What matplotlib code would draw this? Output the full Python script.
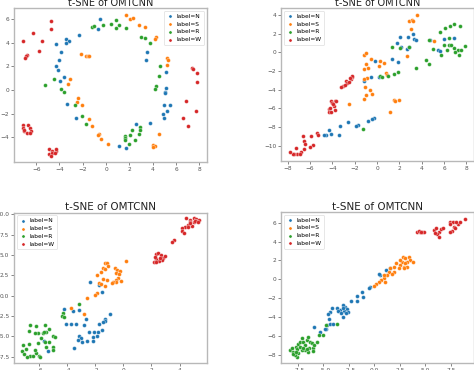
import matplotlib
matplotlib.use("Agg")
import matplotlib.pyplot as plt
import numpy as np

labels = ["N", "S", "R", "W"]
colors = ["#1f77b4", "#ff7f0e", "#2ca02c", "#d62728"]
title = "t-SNE of OMTCNN"

# ---------- panel 1 (top-left) ----------
p1_N_x = [-0.51, -0.71, -2.29, -4.26, -3.4, -3.17, -3.46, -3.86, -4.06, -4.26, -4.14, -3.6, -3.94, -3.34, -2.54,
          3.51, 3.4, 5.11, 5.14, 5.09, 5.03, 5.0, 5.51, 5.2, 4.89, 5.0, 3.77, 2.6, 1.11, 1.69]
p1_N_y = [6.0, 5.15, 4.67, 3.88, 4.3, 4.1, 4.0, 3.2, 2.54, 2.03, 1.7, 1.07, 0.73, -1.17, -2.39,
          3.17, 2.49, 1.52, 0.19, -0.15, -0.29, -1.25, -1.31, -1.82, -2.07, -2.39, -2.81, -2.92, -4.76, -4.93]
p1_S_x = [1.74, 2.03, 2.34, 2.8, 3.37, 4.26, 4.23, 5.26, 5.31, 5.26, -2.14, -1.69, -1.54, -1.43, -3.06, -3.23,
          -2.4, -2.51, -2.06, -1.43, -1.17, -0.6, -0.66, -0.4, 0.2, 4.57, 4.06, 4.2, 4.0]
p1_S_y = [6.34, 6.0, 6.06, 5.49, 5.29, 4.47, 4.3, 2.66, 2.54, 2.09, 3.08, 2.86, 2.86, 2.88, 0.9, 0.48,
          -0.69, -1.03, -1.31, -2.44, -3.07, -3.74, -3.83, -4.17, -4.54, -3.69, -4.68, -4.74, -4.82]
p1_R_x = [-1.17, -1.03, -0.23, 0.43, 0.86, 1.09, 0.89, 1.69, 2.97, 3.37, 3.8, 4.63, 4.57, 4.29, 4.23,
          -5.23, -4.51, -3.83, -3.6, -2.63, -2.03, -1.74, 2.2, 1.66, 1.66, 2.06, 1.63, 2.49, 2.91, 2.89, 2.86, 1.94]
p1_R_y = [5.35, 5.4, 5.46, 5.6, 5.94, 5.49, 5.26, 5.21, 4.47, 4.36, 3.93, 2.0, 1.21, 0.33, 0.11,
          0.39, 0.9, 0.11, -0.15, -1.31, -2.19, -2.92, -3.38, -3.89, -4.06, -3.8, -4.25, -4.28, -3.18, -3.4, -3.77, -4.54]
p1_W_x = [-4.74, -4.74, -6.29, -5.54, -7.14, -5.77, -6.8, -6.89, -6.97,
          -7.09, -6.74, -7.14, -7.0, -6.8, -6.51, -6.46, -6.51, -7.05,
          -4.86, -4.6, -4.29, -4.89, -4.6, -4.4, -4.29, -4.74,
          7.34, 7.49, 7.77, 7.83, 6.86, 6.63, 7.0, 7.71]
p1_W_y = [5.83, 5.12, 4.84, 4.16, 4.1, 3.28, 2.97, 2.83, 2.66,
          -2.98, -2.98, -3.26, -3.49, -3.63, -3.26, -3.49, -3.66, -3.4,
          -4.99, -5.13, -5.13, -5.44, -5.36, -5.3, -4.99, -5.56,
          1.89, 1.75, 1.41, 0.65, -0.97, -2.41, -3.09, -1.82]

# ---------- panel 2 (top-right) ----------
p2_N_x = [2.09, 1.82, 2.18, 2.78, 3.19, 3.28, 3.49, 2.72, 2.84, 1.37, 1.91, -0.15, -0.51, 0.15, -1.19,
          -0.27, -0.42, -0.81, -1.67, -1.91, -2.6, -3.28, -3.37, -4.09, -4.33, -4.6, -4.78, 5.97, 6.87, 5.49, 5.67, 4.72]
p2_N_y = [1.64, 0.99, 0.56, 1.6, 1.93, 1.46, 1.28, 0.35, 0.53, -0.69, -1.08, -0.98, -2.62, -2.66, -3.09,
          -6.99, -7.13, -7.31, -7.82, -7.89, -7.46, -7.85, -8.82, -8.71, -8.28, -8.85, -8.89, 1.46, 1.49, 0.28, 0.17, 1.35]
p2_S_x = [3.61, 2.84, 3.13, 3.19, 3.04, 2.72, -1.16, -0.99, -0.51, 0.27, -0.99, 0.66, -1.13, -0.84, 0.15,
          0.81, 0.9, -0.9, -1.19, -1.1, -0.6, -0.45, -0.96, -1.19, -2.51, 1.52, 1.64, 1.94, 1.13, 5.07]
p2_S_y = [3.96, 3.32, 3.5, 3.39, 2.46, -0.44, -0.26, -0.08, -0.76, -0.94, -1.26, -1.16, -1.8, -1.73, -1.51,
          -2.19, -2.41, -2.8, -2.84, -3.77, -4.02, -4.45, -4.56, -5.02, -5.56, -5.09, -5.2, -5.09, -6.38, 1.24]
p2_R_x = [1.37, 0.27, 0.48, 0.99, 1.49, 1.91, 2.09, 2.9, 3.46, 4.42, 4.69, 4.63, 4.99, 5.67, 6.12, 6.51,
          6.87, 7.4, 5.76, 5.97, 6.3, 6.48, 6.66, 6.93, 6.48, 7.25, 7.34, 7.52, 7.85, 7.01, -1.25]
p2_R_y = [0.53, -2.59, -2.66, -2.59, -2.37, -2.16, 0.46, 0.53, -1.69, -0.8, -1.23, 1.31, 0.38, 2.17, 2.6, 2.85,
          3.03, 2.78, -0.26, 0.81, 0.28, 0.81, 0.74, 0.46, 1.53, 0.28, -0.26, 0.2, 0.63, -0.01, -8.24]
p2_W_x = [-2.3, -2.24, -2.27, -2.78, -2.66, -2.54, -2.39, -3.04, -3.19, -2.84,
          -3.73, -4.09, -4.06, -3.88, -3.97, -3.7, -4.33, -4.33, -4.09, -3.79, -4.18,
          -5.37, -5.31, -5.91, -5.73, -6.0, -6.63, -6.57, -6.48, -7.22, -6.57, -6.78,
          -7.16, -7.4, -7.52, -7.76, -6.93]
p2_W_y = [-2.87, -2.66, -2.52, -3.05, -3.27, -3.2, -2.7, -3.59, -3.7, -3.48,
          -5.27, -5.2, -5.45, -5.74, -5.52, -5.17, -6.06, -6.35, -6.45, -6.17, -5.92,
          -8.6, -8.89, -9.0, -9.96, -10.18, -9.0, -9.53, -9.82, -10.25, -10.36, -10.68,
          -10.86, -10.9, -10.86, -10.72, -10.86]

# ---------- panel 3 (bottom-left) ----------
p3_N_x = [-2.35, -1.69, -1.5, -3.11, -3.54, -4.06, -3.7, -3.35, -2.64, -2.75, -4.18, -0.93, -1.26, -1.33,
          -1.73, -1.45, -1.54, -1.78, -2.11, -2.4, -1.88, -2.16, -2.59, -2.16, -3.11, -2.99, -2.94, -3.18,
          -3.46, -5.64, -5.36]
p3_N_y = [1.72, 1.31, 0.49, -1.72, -1.89, -3.48, -3.52, -3.52, -2.91, -3.61, -1.68, -2.3, -2.87, -3.07,
          -3.52, -3.2, -4.22, -4.5, -4.43, -4.43, -4.92, -5.04, -5.57, -5.61, -4.96, -5.25, -5.66, -5.45,
          -6.39, -5.57, -6.8]
p3_S_x = [0.21, -1.31, -1.12, -1.05, -1.45, -1.26, -1.57, -1.88, -0.62, -0.45, -0.22, -0.5, -0.31, -0.38,
          -0.55, -0.19, -0.5, -0.74, -0.79, -1.73, -1.57, -1.45, -1.33, -1.88, -2.0, -2.59, -2.82, -3.7, -1.17]
p3_S_y = [4.26, 3.98, 4.02, 3.65, 3.36, 3.28, 2.87, 2.54, 3.36, 3.16, 3.03, 2.75, 2.62, 2.21,
          1.93, 1.84, 1.64, 1.72, 1.52, 1.52, 1.39, 2.05, 1.15, 0.29, 0.08, -0.25, -2.21, -1.48, 1.93]
p3_R_x = [-3.11, -4.3, -4.36, -4.22, -6.59, -6.66, -6.19, -6.07, -6.24, -5.53, -5.24, -5.48, -5.0, -4.82,
          -7.09, -7.21, -6.66, -6.9, -7.02, -6.59, -6.83, -6.43, -6.19, -6.24, -6.07, -6.0, -5.9,
          -5.83, -5.53, -5.24, -5.0, -5.48, -5.0, -5.72, -5.6]
p3_R_y = [-1.07, -2.17, -2.5, -2.58, -3.61, -4.3, -3.73, -4.63, -4.63, -3.61, -4.1, -4.51, -4.92, -5.12,
          -6.07, -6.76, -5.94, -6.6, -7.21, -7.42, -7.58, -7.38, -7.09, -6.68, -5.86, -7.38, -7.5,
          -5.25, -5.66, -5.66, -6.27, -6.27, -6.68, -4.63, -4.43]
p3_W_x = [4.47, 4.76, 4.99, 5.18, 5.37, 5.18, 4.99, 4.76, 4.62, 4.38, 4.19, 4.14, 4.28, 4.85, 4.62, 4.76,
          5.07, 5.28, 3.57, 3.48,
          2.29, 2.46, 2.7, 2.82, 2.93, 2.77, 2.53, 2.29, 2.15, 2.34, 2.63, 2.22]
p3_W_y = [9.51, 9.34, 9.51, 9.39, 9.22, 9.1, 9.02, 9.02, 8.69, 8.48, 8.28, 7.87, 7.66, 8.6, 8.36, 8.89,
          9.18, 9.02, 6.84, 6.64,
          5.12, 5.2, 5.0, 4.67, 4.88, 4.39, 4.26, 4.47, 4.1, 4.18, 4.59, 4.8]

# ---------- panel 4 (bottom-right) ----------
p4_N_x = [1.49, 1.16, 0.57, 0.5, -0.41, -0.57, -1.23, -1.72, -1.13, -1.65, -2.27,
          -2.86, -3.02, -2.7, -3.35, -2.96, -3.09, -2.53, -2.76, -3.68, -3.51, -3.28,
          -4.33, -4.49, -4.17, -3.09, -4.4, -4.66, -4.72, -4.33, -4.0, -5.87, -5.31, -4.82]
p4_N_y = [1.16, 0.99, 0.45, 0.52, -0.79, -0.89, -1.39, -1.78, -1.85, -2.31, -2.27,
          -2.98, -2.73, -3.19, -3.26, -3.37, -3.01, -3.44, -3.54, -3.08, -3.37, -3.61,
          -3.44, -3.69, -3.08, -3.97, -4.22, -4.85, -5.28, -4.75, -4.79, -5.1, -5.56, -5.28]
p4_S_x = [2.79, 3.02, 3.35, 3.51, 3.77, 3.19, 2.7, 2.53, 2.86, 3.19, 3.02, 2.47, 2.14, 1.94, 1.55, 1.39,
          1.88, 1.23, 0.9, 0.64, 1.06, 0.41, 0.18, -0.08, 0.9, 1.72, 2.37, 2.86]
p4_S_y = [2.39, 2.22, 2.39, 2.04, 1.86, 1.86, 1.86, 1.51, 1.33, 1.33, 1.69, 2.04, 1.69, 1.33, 1.16, 0.73,
          0.73, 0.45, 0.1, -0.08, -0.26, -0.26, -0.5, -0.68, 0.45, 0.52, 1.16, 1.16]
p4_R_x = [-3.68, -4.72, -5.38, -5.05, -8.25, -8.09, -7.92, -7.66, -7.43, -7.53, -7.27, -7.11, -6.94, -6.78,
          -6.62, -6.45, -6.29, -6.13, -5.96, -6.03, -6.45, -6.78, -7.11, -7.43, -7.6, -7.76, -7.99,
          -7.27, -6.94, -6.36, -5.9, -5.64, -6.55, -7.66]
p4_R_y = [-4.79, -4.85, -5.91, -5.91, -7.5, -7.33, -7.68, -7.15, -6.9, -7.4, -6.62, -6.27, -6.62, -6.97,
          -6.44, -6.09, -6.62, -6.8, -7.33, -7.61, -7.68, -7.5, -7.5, -7.86, -8.21, -8.03, -7.96,
          -7.15, -7.33, -7.26, -6.97, -6.62, -7.4, -7.68]
p4_W_x = [4.17, 4.43, 4.69, 4.89, 4.33, 4.59, 5.8, 6.06, 6.29, 6.52, 6.72, 6.13, 6.32, 5.96,
          7.43, 7.7, 7.37, 7.76, 7.6, 7.92, 8.19, 8.02, 8.84, 8.42, 7.43]
p4_W_y = [5.05, 5.05, 5.05, 5.05, 5.12, 4.98, 5.22, 5.4, 5.05, 5.29, 5.47, 4.76, 4.52, 4.87,
          6.11, 6.04, 5.82, 5.58, 5.15, 5.4, 5.82, 6.11, 6.42, 6.11, 5.05]

panels = [
    dict(data=[(p1_N_x, p1_N_y), (p1_S_x, p1_S_y), (p1_R_x, p1_R_y), (p1_W_x, p1_W_y)],
         rect=[14, 8, 193, 154], xlim=(-7.9, 8.66), ylim=(-6.1, 6.93),
         xt=np.arange(-6, 9, 2), yt=np.arange(-4, 7, 2), loc="upper right"),
    dict(data=[(p2_N_x, p2_N_y), (p2_S_x, p2_S_y), (p2_R_x, p2_R_y), (p2_W_x, p2_W_y)],
         rect=[281, 8, 193, 153], xlim=(-8.6, 8.68), ylim=(-11.65, 4.75),
         xt=np.arange(-8, 9, 2), yt=np.arange(-10, 5, 2), loc="upper left"),
    dict(data=[(p3_N_x, p3_N_y), (p3_S_x, p3_S_y), (p3_R_x, p3_R_y), (p3_W_x, p3_W_y)],
         rect=[14, 212.5, 193, 150.5], xlim=(-7.75, 5.94), ylim=(-8.27, 10.2),
         xt=np.arange(-6, 5, 2), yt=np.arange(-7.5, 10.1, 2.5), loc="upper left"),
    dict(data=[(p4_N_x, p4_N_y), (p4_S_x, p4_S_y), (p4_R_x, p4_R_y), (p4_W_x, p4_W_y)],
         rect=[281, 211.7, 193, 151.3], xlim=(-9.13, 9.75), ylim=(-8.88, 7.17),
         xt=np.arange(-7.5, 7.6, 2.5), yt=np.arange(-8, 7, 2), loc="upper left"),
]

W, H = 474, 370
fig = plt.figure(figsize=(W / 100, H / 100), dpi=100)

for i, p in enumerate(panels):
    x0, y0, w, h = p["rect"]
    ax = fig.add_axes([x0 / W, 1 - (y0 + h) / H, w / W, h / H])
    for (xs, ys), lab, c in zip(p["data"], labels, colors):
        ax.scatter(xs, ys, s=8, color=c, label="label=" + lab, edgecolors="white", linewidths=0.25)
    ax.set_xlim(*p["xlim"])
    ax.set_ylim(*p["ylim"])
    ax.set_xticks(p["xt"])
    ax.set_yticks(p["yt"])
    ax.tick_params(labelsize=4.2, length=2, width=0.5, pad=1.5, colors="#555555")
    for sp in ax.spines.values():
        sp.set_color("#b8b8b8")
        sp.set_linewidth(1.0)
    if i < 2:
        ax.set_title(title, fontsize=7, pad=0.3, color="#222222")
    else:
        ax.set_title(title, fontsize=7.5, pad=1.5, color="#222222")
    leg = ax.legend(loc=p["loc"], fontsize=4.2, markerscale=0.8, handletextpad=0.4,
                    borderpad=0.5, labelspacing=0.45, framealpha=1, edgecolor="#dddddd",
                    handlelength=1.2)
    leg.get_frame().set_linewidth(0.5)

fig.savefig("out.png", dpi=100)
